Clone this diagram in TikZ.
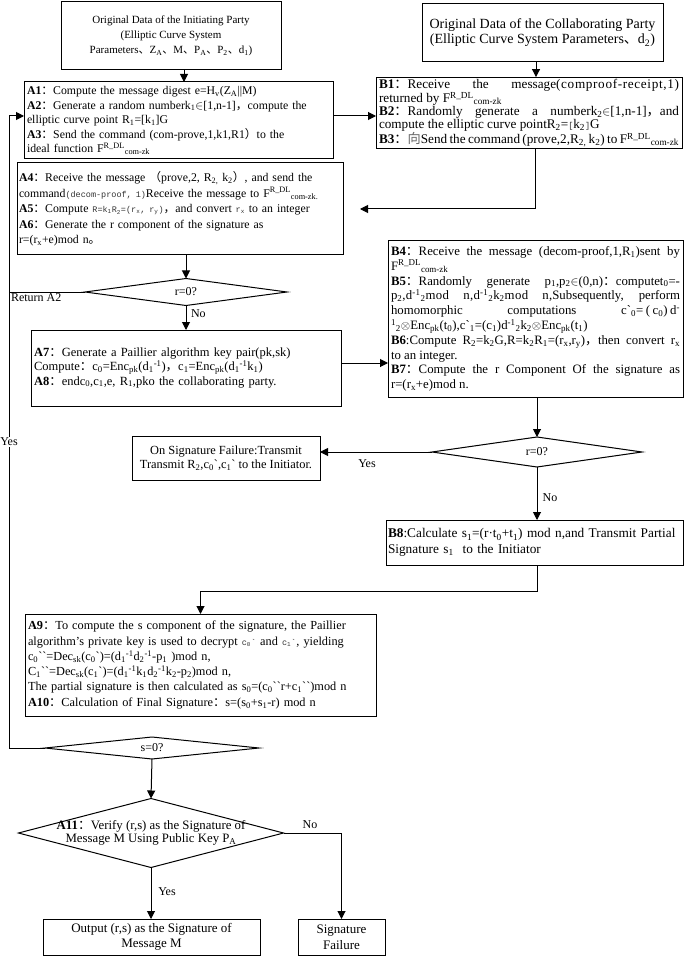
\documentclass[tikz,border=0pt]{standalone}
\usepackage{fontspec}
\setmainfont{Liberation Serif}
\newfontfamily\cjkf{Noto Sans CJK SC}
\newfontfamily\monof{Liberation Mono}
\usetikzlibrary{arrows.meta,shapes.geometric}
\newcommand\zc{{\cjkf ：}}
\newcommand\zcm{{\cjkf ，}}
\newcommand\zd{{\cjkf 、}}
\newcommand\zlp{{\cjkf （}}
\newcommand\zrp{{\cjkf ）}}
\newcommand\zst{{\cjkf 。}}
\newcommand\tsb[1]{\textsubscript{#1}}
\newcommand\tsp[1]{\textsuperscript{#1}}
\newcommand\bq{\textasciigrave}
\newcommand\Fz{F\tsp{R\_DL}\tsb{com-zk}}
\newcommand\gm[1]{{\monof\fontsize{8.5}{10}\selectfont\color{black!80}#1}}
\newcommand\lsp[2]{{\addfontfeature{LetterSpace=#1}#2}}
\newcommand\fs[2]{\fontsize{#1}{#2}\selectfont}
\begin{document}
\tolerance=10000 \hbadness=10000 \hfuzz=20pt \lineskiplimit=-20pt \lineskip=0pt
\begin{tikzpicture}[x=1pt,y=-1pt,
  every node/.style={font=\fs{12}{14}, inner sep=0pt, outer sep=0pt},
  box/.style={draw, line width=1pt, inner xsep=3pt, inner ysep=2pt},
  dia/.style={draw, diamond, line width=1pt, inner sep=0pt},
  arr/.style={-{Triangle[length=8pt,width=8pt]}, line width=1pt},
  ln/.style={line width=1pt},
  lbl/.style={font=\fs{12}{13}}]
\useasboundingbox (0,0) rectangle (685,957);

% top boxes
\node[box, minimum width=220pt, minimum height=68pt, align=center, font=\fs{11}{15}] (tl) at (171,36)
 {Original Data of the Initiating Party\\(Elliptic Curve System\\Parameters\zd Z\tsb{A}\zd M\zd P\tsb{A}\zd P\tsb{2}\zd d\tsb{1})};
\node[box, minimum width=241pt, minimum height=58pt, align=center, font=\fs{14}{15}] (tr) at (542.5,33)
 {Original Data of the Collaborating Party\\(Elliptic Curve System Parameters\zd d\tsb{2})};

% A1-A3
\node[box, minimum width=309pt, minimum height=77pt, text width=303pt, align=left, font=\fs{11.8}{14.6}] (a1) at (178.5,120.5)
 {\textbf{A1}\zc Compute the message digest e=H\tsb{v}(Z\tsb{A}||M)\\
  \mbox{\textbf{A2}\zc Generate a random numberk\tsb{1}$\in$[1,n-1]\zcm compute the}\\
  elliptic curve point R\tsb{1}=[k\tsb{1}]G\\
  \textbf{A3}\zc Send the command (com-prove,1,k1,R1\zrp to the\\
  ideal function \Fz};

% B1-B3
\node[box, minimum width=306pt, minimum height=66pt, text width=300pt, align=justify, font=\fs{13.2}{13}] (b1) at (529,113)
 {\textbf{B1}\zc Receive the message\lsp{5}{(comproof-receipt,1)}\linebreak
  returned by \Fz\newline
  \textbf{B2}\zc Randomly generate a numberk\tsb{2}$\in$[1,n-1]\zcm and\linebreak
  compute the elliptic curve pointR\tsb{2}=\gm{[}k\tsb{2}\gm{]}G\newline
  \textbf{B3}\zc{\color{black!60}\cjkf 向}Send the command (prove,2,R\tsb{2,} k\tsb{2}) to \Fz};

% A4-A6
\node[box, minimum width=326pt, minimum height=92pt, inner xsep=2pt, text width=322pt, align=left, font=\fs{11.8}{15.5}] (a4) at (180,209)
 {\textbf{A4}\zc Receive the message \zlp prove,2, R\tsb{2,} k\tsb{2}\zrp, and send the\\
  \mbox{command\gm{(decom-proof, 1)}Receive the message to F\tsp{R\_DL}\tsb{com-zk.}}\\
  \mbox{\textbf{A5}\zc Compute \gm{R=k\tsb{1}R\tsb{2}=(r\tsb{x}, r\tsb{y})}\zcm and convert \gm{r\tsb{x}} to an integer}\\
  \textbf{A6}\zc Generate the r component of the signature as\\
  r=(r\tsb{x}+e)mod n\zst};

% r=0? (left)
\node[dia, minimum width=202pt, minimum height=27pt] (d1) at (186,292) {};
\node (t1) at (d1) {r=0?};

% A7-A8
\node[box, minimum width=310pt, minimum height=76pt, text width=304pt, align=left, font=\fs{12.5}{14.2}] (a7) at (186,368)
 {\textbf{A7}\zc Generate a Paillier algorithm key pair(pk,sk)\\
  Compute\zc c\tsb{0}=Enc\tsb{pk}(d\tsb{1}\tsp{-1})\zcm c\tsb{1}=Enc\tsb{pk}(d\tsb{1}\tsp{-1}k\tsb{1})\\
  \textbf{A8}\zc endc\tsb{0},c\tsb{1},e, R\tsb{1},pko the collaborating party.};

% B4-B7
\node[box, minimum width=295pt, minimum height=156pt, text width=289pt, align=justify, font=\fs{12.8}{14.8}] (b4) at (535.5,319)
 {\textbf{B4}\zc Receive the message (decom-proof,1,R\tsb{1})sent by\linebreak
  \Fz\newline
  \textbf{B5}\zc Randomly generate p\tsb{1},p\tsb{2}$\in$(0,n)\zc computet\tsb{0}=-\linebreak
  \lsp{3}{p\tsb{2},d\tsp{-1}\tsb{2}mod n,d\tsp{-1}\tsb{2}k\tsb{2}mod n,}Subsequently, perform\linebreak
  homomorphic computations \lsp{20}{c\bq\tsb{0}=(c\tsb{0})d}\tsp{-}\linebreak
  \tsp{1}\tsb{2}$\otimes$Enc\tsb{pk}(t\tsb{0}),c\bq\tsb{1}=(c\tsb{1})d\tsp{-1}\tsb{2}k\tsb{2}$\otimes$Enc\tsb{pk}(t\tsb{1})\newline
  \textbf{B6}:Compute R\tsb{2}=k\tsb{2}G,R=k\tsb{2}R\tsb{1}=(r\tsb{x},r\tsb{y})\zcm then convert r\tsb{x}\linebreak
  to an integer.\newline
  \textbf{B7}\zc Compute the r Component Of the signature as\linebreak
  r=(r\tsb{x}+e)mod n.};

% r=0? (right)
\node[dia, minimum width=210pt, minimum height=30pt] (d2) at (537,452) {};
\node (t2) at (d2) {r=0?};

% failure transmit
\node[box, minimum width=188pt, minimum height=44pt, align=center, font=\fs{12.4}{14.5}] (fail) at (226,458)
 {On Signature Failure:Transmit\\Transmit R\tsb{2},c\tsb{0}\bq,c\tsb{1}\bq{} to the Initiator.};

% B8
\node[box, minimum width=297pt, minimum height=45pt, inner xsep=2pt, text width=293pt, align=left, font=\fs{13.3}{15.5}] (b8) at (534.5,542.5)
 {\mbox{\textbf{B8}:Calculate s\tsb{1}=(r·t\tsb{0}+t\tsb{1}) mod n,and Transmit Partial}\\
  Signature s\tsb{1}\ \ to the Initiator};

% A9-A10
\node[box, minimum width=351pt, minimum height=102pt, text width=345pt, align=left, font=\fs{12.3}{15.3}] (a9) at (200.5,665)
 {\textbf{A9}\zc To compute the s component of the signature, the Paillier\\
  algorithm's private key is used to decrypt \gm{c\tsb{0}\bq} and \gm{c\tsb{1}\bq}, yielding\\
  c\tsb{0}\bq\bq=Dec\tsb{sk}(c\tsb{0}\bq)=(d\tsb{1}\tsp{-1}d\tsb{2}\tsp{-1}-p\tsb{1} )mod n,\\
  C\tsb{1}\bq\bq=Dec\tsb{sk}(c\tsb{1}\bq)=(d\tsb{1}\tsp{-1}k\tsb{1}d\tsb{2}\tsp{-1}k\tsb{2}-p\tsb{2})mod n,\\
  The partial signature is then calculated as s\tsb{0}=(c\tsb{0}\bq\bq r+c\tsb{1}\bq\bq)mod n\\
  \textbf{A10}\zc Calculation of Final Signature\zc s=(s\tsb{0}+s\tsb{1}-r) mod n};

% s=0?
\node[dia, minimum width=214pt, minimum height=22pt] (d3) at (152,748) {};
\node (t3) at (d3) {s=0?};

% A11
\node[dia, minimum width=265pt, minimum height=69pt] (d4) at (151,833) {};
\node[align=center, font=\fs{12.8}{13}] (t4) at (151,833)
 {\textbf{A11}\zc Verify (r,s) as the Signature of\\Message M Using Public Key P\tsb{A}};

% outputs
\node[box, minimum width=217pt, minimum height=36pt, align=center, font=\fs{13}{15.5}] (out) at (151.5,937)
 {Output (r,s) as the Signature of\\Message M};
\node[box, minimum width=87pt, minimum height=36pt, align=center, font=\fs{13}{15.5}] (sf) at (341.5,937)
 {Signature\\Failure};

% loop coordinates
\coordinate (Lt) at (9,116);
\coordinate (Lm) at (9,292);
\coordinate (Lb) at (9,748);

% connectors
\draw[arr] ([xshift=13pt]tl.south) -- ([xshift=13pt]tl.south |- a1.north);
\draw[arr] ([xshift=-6.5pt]tr.south) -- ([xshift=-6.5pt]tr.south |- b1.north);
\draw[arr] (Lt -| a1.east) -- (Lt -| b1.west);
\draw[arr] ([xshift=6pt]b1.south) |- ([xshift=17pt]a4.east);
\draw[arr] (d1.north |- a4.south) -- (d1.north);
\draw[arr] (d1.south) -- (a7.north);
\draw[ln] (d1.west) -- (Lm);
\draw[arr] (d3.west) -- (Lb) -- (Lt) -- (Lt -| a1.west);
\draw[arr] ([yshift=5pt]a7.east) -- ([yshift=5pt]a7.east -| b4.west);
\draw[arr] (d2.north |- b4.south) -- (d2.north);
\draw[arr] (d2.west) -- (d2.west -| fail.east);
\draw[arr] (d2.south) -- (d2.south |- b8.north);
\draw[arr] (d2.south |- b8.south) -- ++(0,26) -| (a9.north);
\draw[arr] (d3.south) -- (d4.north);
\draw[arr] (d4.east) -| (sf.north);
\draw[arr] (d4.south) -- (d4.south |- out.north);

% labels
\node[lbl, anchor=west] (ret) at (11,298) {Return A2};
\node[lbl, fill=white, inner sep=1pt] (yl) at (9,442) {Yes};
\node[lbl, anchor=west] (no1) at (191,314) {No};
\node[lbl] (yes2) at (367,464) {Yes};
\node[lbl] (no2) at (550,498) {No};
\node[lbl] (no3) at (310,825) {No};
\node[lbl] (yes3) at (167,892) {Yes};
\end{tikzpicture}
\end{document}
